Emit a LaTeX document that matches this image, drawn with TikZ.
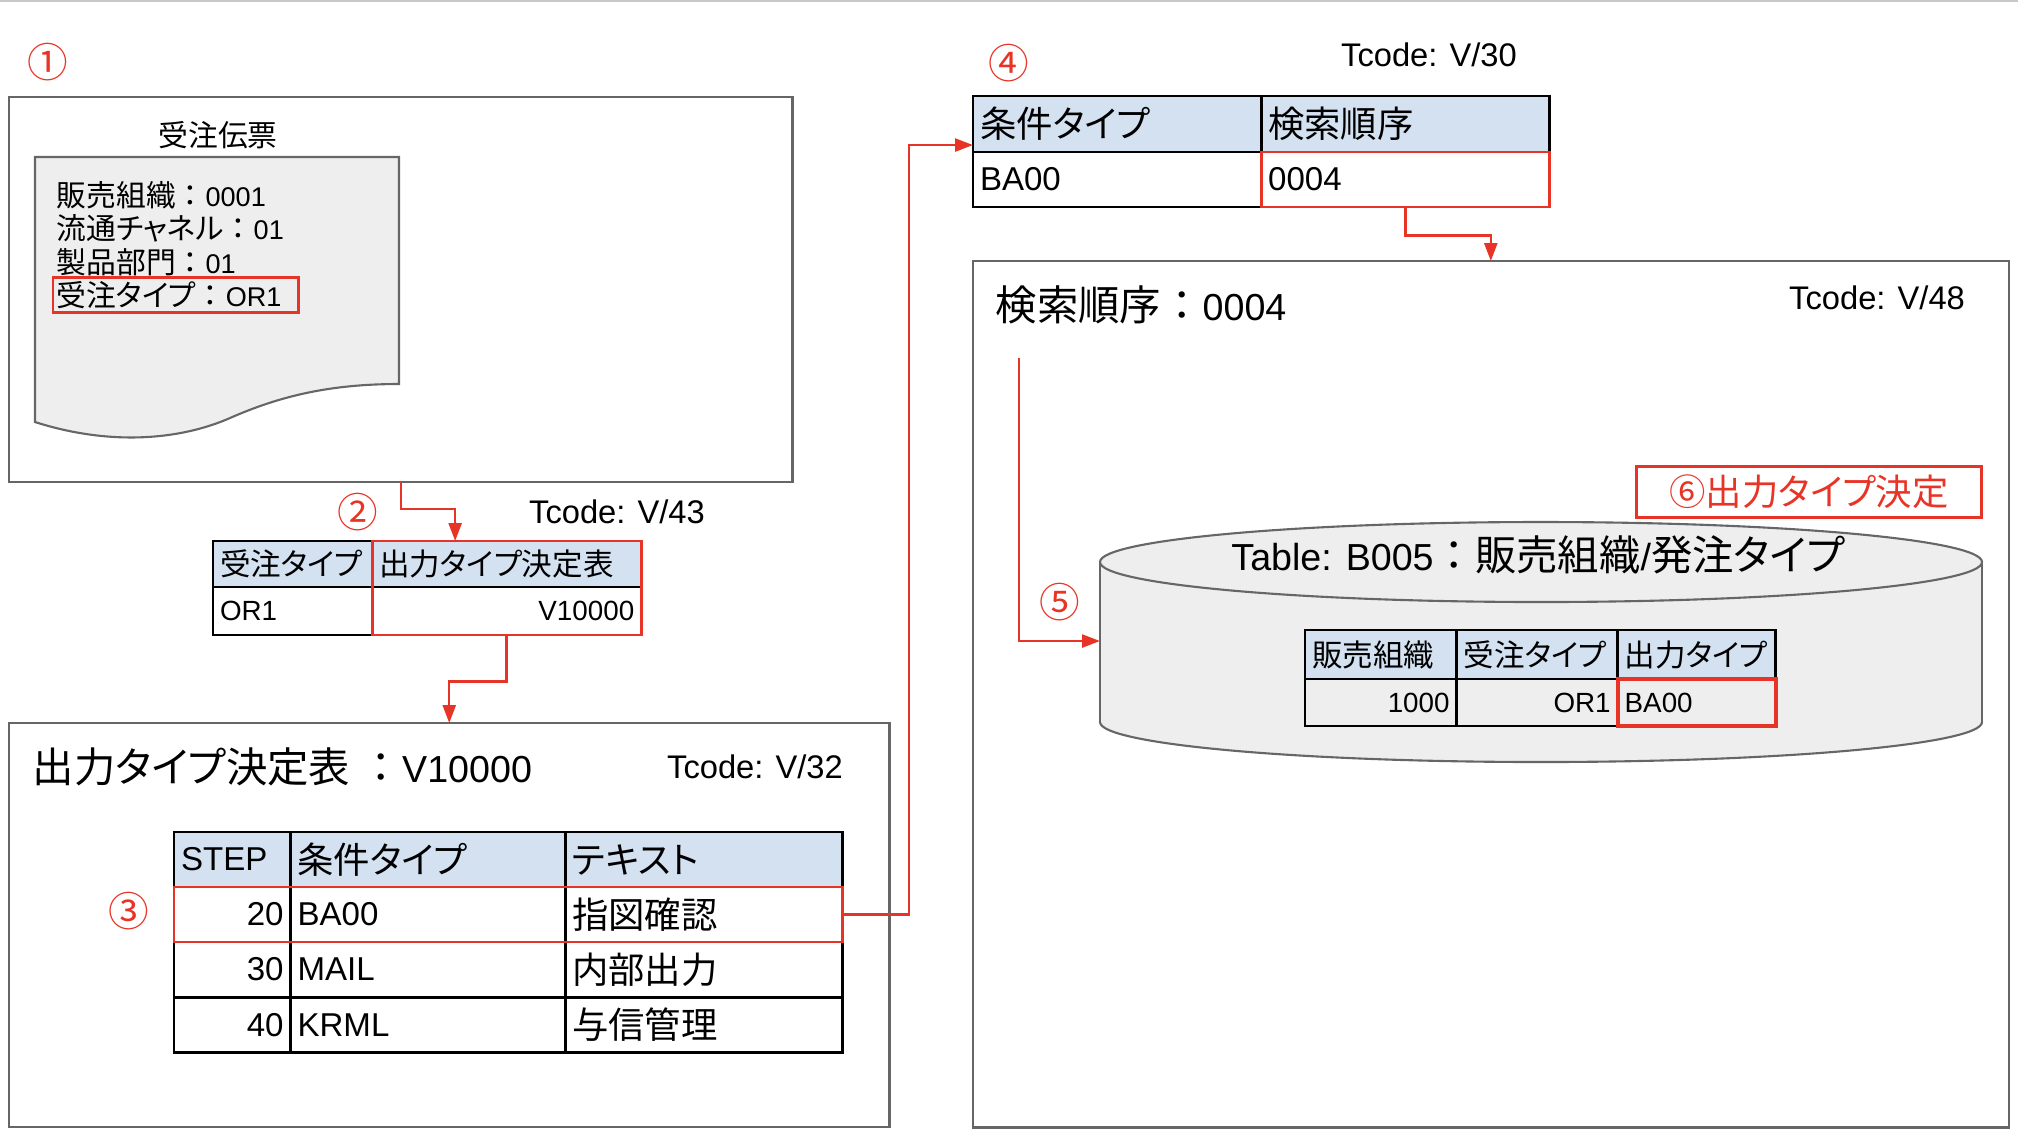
\documentclass[tikz,border=0pt]{standalone}
\usepackage{fontspec}
\setmainfont{Liberation Sans}
\newfontfamily\jp[Scale=1.1,RawFeature=+palt]{Noto Sans CJK JP}
\newfontfamily\jpw[Scale=1.1]{Noto Sans CJK JP}
\newcommand\cln{{\jpw ：}}
\usetikzlibrary{arrows.meta,positioning,fit,calc}

\definecolor{hired}{RGB}{232,52,38}
\definecolor{headblue}{RGB}{212,225,241}
\definecolor{docgray}{RGB}{238,238,238}
\definecolor{panelgray}{RGB}{102,102,102}
\definecolor{topgray}{RGB}{200,200,200}

\begin{document}
\begin{tikzpicture}[
  x=0.01cm, y=-0.01cm,
  panel/.style={draw=panelgray, line width=0.6pt, anchor=north west, inner sep=0pt, outer sep=0pt},
  cell/.style={draw, line width=0.8pt, anchor=north west, inner xsep=0.07cm, inner ysep=0pt, outer sep=0pt, align=left},
  hcell/.style={cell, fill=headblue},
  tsmall/.style={font=\fontsize{7.9}{9}\selectfont},
  tbig/.style={font=\fontsize{9.4}{11}\selectfont},
  doctext/.style={font=\fontsize{7.7}{9}\selectfont, anchor=west, inner sep=0pt},
  ttl/.style={font=\fontsize{10.7}{13}\selectfont, anchor=west, inner sep=0pt},
  tcode/.style={font=\fontsize{9.3}{11}\selectfont, inner sep=0pt},
  circnum/.style={text=hired, font=\jpw\fontsize{10.5}{12}\selectfont, inner sep=0pt},
  selbox/.style={draw=hired, line width=0.8pt, inner sep=0pt},
  arr/.style={draw=hired, line width=0.7pt, -{Triangle[length=0.18cm, width=0.13cm]}}
]
\useasboundingbox (0,0) rectangle (2018,1138);
\draw[topgray, line width=0.8pt] (0,1) -- (2018,1);

% order slip
\node[panel, minimum width=7.83cm, minimum height=3.85cm] (box1) at (9,97) {};
\node[circnum] (n1) at (48,62) {①};
\node[doctext, anchor=center] (slipttl) at (218,135) {\jp 受注伝票};
\draw[draw=panelgray, fill=docgray, line width=0.6pt] (35,157) -- (399,157) -- (399,384)
  .. controls (330,384) and (280,396) .. (230,418)
  .. controls (180,440) and (110,446) .. (35,422) -- cycle;
\node[doctext] (d1) at (56,195) {{\jp 販売組織}\cln 0001};
\node[doctext] (d2) at (56,228) {{\jp 流通チャネル}\cln 01};
\node[doctext] (d3) at (56,262) {{\jp 製品部門}\cln 01};
\node[doctext, draw=hired, line width=0.7pt, inner xsep=0.035cm, text width=2.38cm, minimum height=0.35cm, align=left] (d4) at (52,295) {{\jp 受注タイプ}\cln OR1};

% V/43
\node[circnum] (n2) at (358,512) {②};
\node[tcode] (tc43) at (617,512) {Tcode: V/43};
\node[hcell, tsmall, text width=1.45cm, minimum height=0.46cm] (t2h1) at (213,541) {\jp 受注タイプ};
\node[hcell, tsmall, text width=2.55cm, minimum height=0.46cm] (t2h2) at (t2h1.north east) {\jp 出力タイプ決定表};
\node[cell, tsmall, text width=1.45cm, minimum height=0.48cm] (t2d1) at (t2h1.south west) {OR1};
\node[cell, tsmall, text width=2.55cm, minimum height=0.48cm, align=right] (t2d2) at (t2h2.south west) {V10000};
\node[selbox, fit=(t2h2)(t2d2)] (t2sel) {};

% V/32
\node[panel, minimum width=8.80cm, minimum height=4.04cm] (box3) at (9,723) {};
\node[ttl] (ttl3) at (32,767) {{\jp 出力タイプ決定表} \cln V10000};
\node[tcode] (tc32) at (755,767) {Tcode: V/32};
\node[circnum] (n3) at (129,911) {③};
\node[hcell, tbig, text width=1.025cm, minimum height=0.55cm] (t3h1) at (174,832) {STEP};
\node[hcell, tbig, text width=2.605cm, minimum height=0.55cm] (t3h2) at (t3h1.north east) {\jp 条件タイプ};
\node[hcell, tbig, text width=2.63cm, minimum height=0.55cm] (t3h3) at (t3h2.north east) {\jp テキスト};
\node[cell, tbig, text width=1.025cm, minimum height=0.55cm, align=right] (t3a1) at (t3h1.south west) {20};
\node[cell, tbig, text width=2.605cm, minimum height=0.55cm] (t3a2) at (t3h2.south west) {BA00};
\node[cell, tbig, text width=2.63cm, minimum height=0.55cm] (t3a3) at (t3h3.south west) {\jp 指図確認};
\node[cell, tbig, text width=1.025cm, minimum height=0.55cm, align=right] (t3b1) at (t3a1.south west) {30};
\node[cell, tbig, text width=2.605cm, minimum height=0.55cm] (t3b2) at (t3a2.south west) {MAIL};
\node[cell, tbig, text width=2.63cm, minimum height=0.55cm] (t3b3) at (t3a3.south west) {\jp 内部出力};
\node[cell, tbig, text width=1.025cm, minimum height=0.55cm, align=right] (t3c1) at (t3b1.south west) {40};
\node[cell, tbig, text width=2.605cm, minimum height=0.55cm] (t3c2) at (t3b2.south west) {KRML};
\node[cell, tbig, text width=2.63cm, minimum height=0.55cm] (t3c3) at (t3b3.south west) {\jp 与信管理};
\node[selbox, fit=(t3a1)(t3a3)] (t3sel) {};

% V/30
\node[circnum] (n4) at (1009,63) {④};
\node[tcode] (tc30) at (1429,55) {Tcode: V/30};
\node[hcell, tbig, text width=2.74cm, minimum height=0.56cm] (t4h1) at (973,96) {\jp 条件タイプ};
\node[hcell, tbig, text width=2.74cm, minimum height=0.56cm] (t4h2) at (t4h1.north east) {\jp 検索順序};
\node[cell, tbig, text width=2.74cm, minimum height=0.55cm] (t4d1) at (t4h1.south west) {BA00};
\node[cell, tbig, text width=2.74cm, minimum height=0.55cm] (t4d2) at (t4h2.south west) {0004};
\node[selbox, fit=(t4d2)] (t4sel) {};

% V/48
\node[panel, minimum width=10.35cm, minimum height=8.66cm] (box5) at (973,261) {};
\node[ttl] (ttl5) at (995,305) {{\jp 検索順序}\cln 0004};
\node[tcode] (tc48) at (1877,298) {Tcode: V/48};
\node[circnum] (n5) at (1060,602) {⑤};
\node[selbox, text=hired, font=\jp\fontsize{9.4}{11}\selectfont, minimum width=3.45cm, minimum height=0.51cm] (n6) at (1809,492) {⑥出力タイプ決定};

% table B005
\draw[draw=panelgray, fill=docgray, line width=0.6pt] (1541,722) ellipse (441 and 40);
\fill[docgray] (1100,562) rectangle (1982,722);
\draw[panelgray, line width=0.6pt] (1100,562) -- (1100,722);
\draw[panelgray, line width=0.6pt] (1982,562) -- (1982,722);
\draw[draw=panelgray, fill=docgray, line width=0.6pt] (1541,562) ellipse (441 and 40);
\coordinate (cylw) at (1100,641);
\node[ttl, anchor=center] (ttl6) at (1538,555) {Table: B005\cln{\jp 販売組織}/{\jp 発注タイプ}};
\node[hcell, tsmall, text width=1.375cm, minimum height=0.49cm] (t6h1) at (1305,630) {\jp 販売組織};
\node[hcell, tsmall, text width=1.47cm, minimum height=0.49cm] (t6h2) at (t6h1.north east) {\jp 受注タイプ};
\node[hcell, tsmall, text width=1.44cm, minimum height=0.49cm] (t6h3) at (t6h2.north east) {\jp 出力タイプ};
\node[cell, tsmall, text width=1.375cm, minimum height=0.47cm, align=right] (t6d1) at (t6h1.south west) {1000};
\node[cell, tsmall, text width=1.47cm, minimum height=0.47cm, align=right] (t6d2) at (t6h2.south west) {OR1};
\node[cell, tsmall, text width=1.44cm, minimum height=0.47cm] (t6d3) at (t6h3.south west) {BA00};
\node[selbox, line width=1.2pt, fit=(t6d3)] (t6sel) {};

% flow
\coordinate (s5) at (1019,358);
\draw[arr] (box1.south) -- ++(0,27) -| ([xshift=0.83cm]t2h2.north west);
\draw[arr] (t2sel.south) -- ++(0,45) -| (box3.north);
\draw[arr] (t3sel.east) -- ++(65,0) |- ([yshift=0.07cm]t4h1.south west);
\draw[arr] (t4sel.south) -- ++(0,27) -| (box5.north);
\draw[arr] (s5) |- (cylw);
\end{tikzpicture}
\end{document}
